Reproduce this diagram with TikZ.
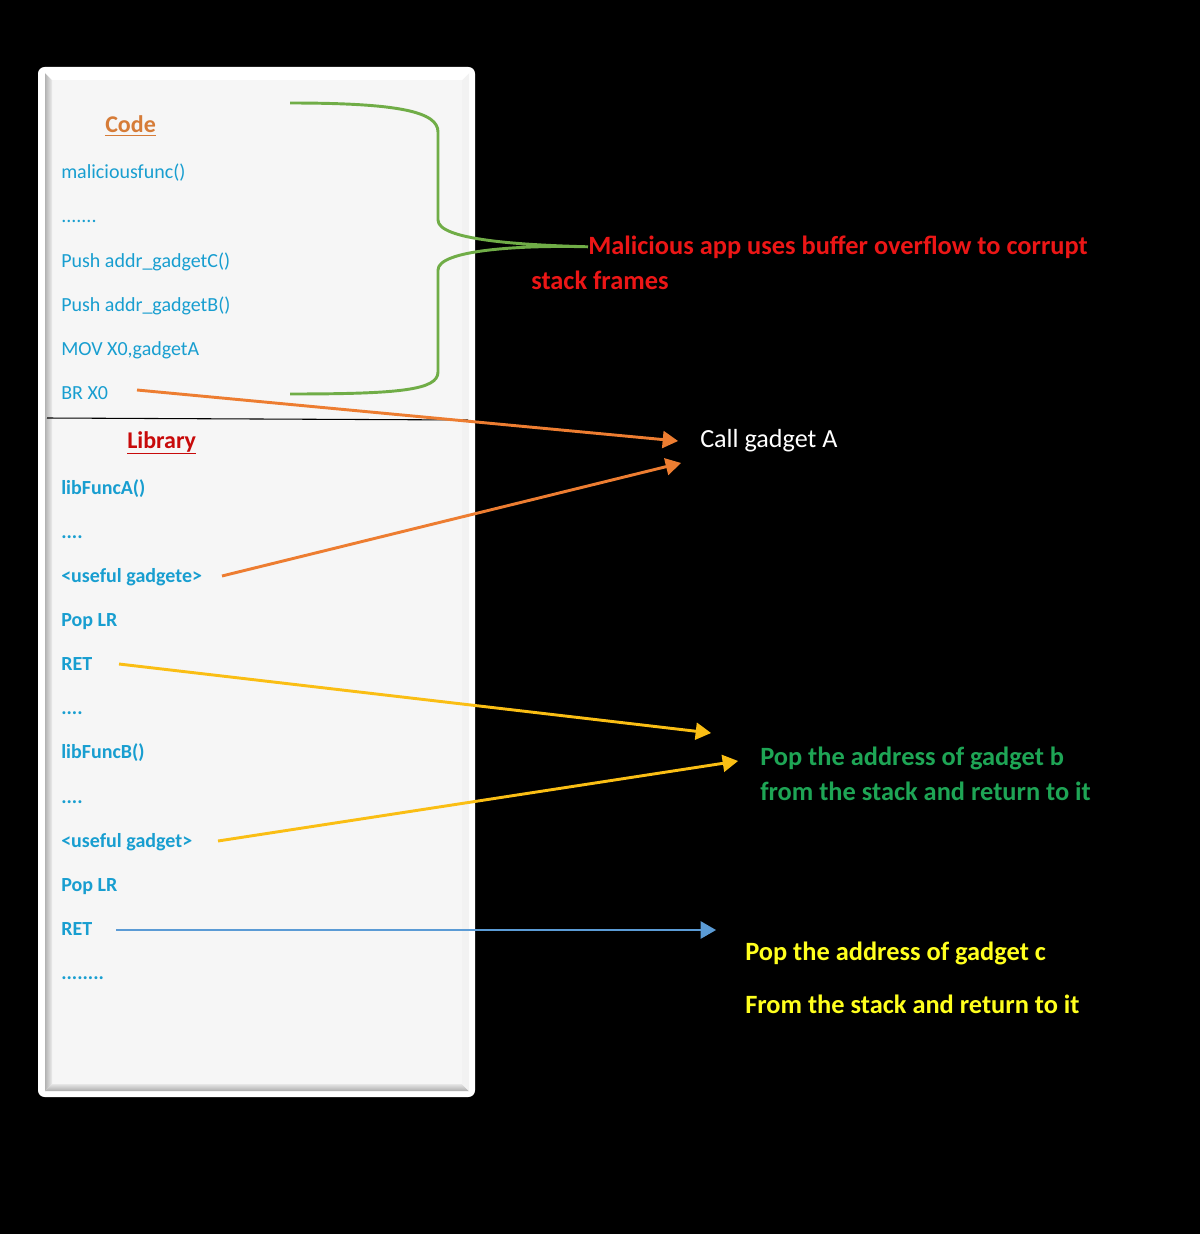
\documentclass[tikz,border=0pt]{standalone}
\usepackage{fontspec}
\setmainfont{Carlito}
\usetikzlibrary{positioning}
\usetikzlibrary{arrows}
\definecolor{codeblue}{RGB}{24,158,208}
\definecolor{codehead}{RGB}{214,124,56}
\definecolor{libhead}{RGB}{200,10,10}
\definecolor{warnred}{RGB}{236,22,22}
\definecolor{gadgetgreen}{RGB}{30,165,85}
\definecolor{gadgetyellow}{RGB}{255,255,30}
\definecolor{linkorange}{RGB}{237,125,49}
\definecolor{linkyellow}{RGB}{250,190,20}
\definecolor{linkblue}{RGB}{91,155,213}
\definecolor{bracegreen}{RGB}{112,173,71}
\definecolor{panel}{RGB}{246,246,246}
\tikzstyle{every codeline} = [anchor=base west, inner sep=0pt, text=codeblue]
\tikzstyle{codeline} = [every codeline, font=\fontsize{15}{18}\selectfont]
\tikzstyle{libline} = [every codeline, font=\fontsize{15}{18}\selectfont\bfseries]
\tikzstyle{heading} = [anchor=base west, inner sep=0pt, font=\fontsize{18}{22}\selectfont\bfseries]
\tikzstyle{remark} = [anchor=base west, inner sep=0pt, font=\fontsize{19.8}{24}\selectfont\bfseries]
\tikzstyle{link} = [>=triangle 60, draw, line width=2.2pt, ->]

\begin{document}
\begin{tikzpicture}[x=0.75pt, y=-0.75pt]
        \fill[black] (0,0) rectangle (1200,1234);

        % memory panel
        \fill[white, rounded corners=5] (38,67) rectangle (475,1097);
        \fill[panel] (45,73) rectangle (469,1091);
        \shade[left color=gray!60, right color=gray!15] (45,73) -- (52,80) -- (52,1084) -- (45,1091) -- cycle;
        \shade[top color=gray!20, bottom color=gray!65] (52,1084) -- (462,1084) -- (469,1091) -- (45,1091) -- cycle;
        \fill[gray!10] (462,80) -- (469,73) -- (469,1091) -- (462,1084) -- cycle;
        \fill[white] (45,73) -- (469,73) -- (462,80) -- (52,80) -- cycle;
        \draw[black, line width=0.8pt] (47,418) -- (468,420);

        % code part
        \node[heading, text=codehead] (code) at (105,133) {\underline{Code}};
        \node[codeline] (malfunc) at (61,178) {maliciousfunc()};
        \node[codeline] (dotsa) at (61,222) {.......};
        \node[codeline] (pushc) at (61,267) {Push addr\_gadgetC()};
        \node[codeline] (pushb) at (61,311) {Push addr\_gadgetB()};
        \node[codeline] (movx) at (61,355) {MOV X0,gadgetA};
        \node[codeline] (brx) at (61,399) {BR X0};

        % library part
        \node[heading, text=libhead] (library) at (127,448) {\underline{Library}};
        \node[libline] (libfa) at (61,494) {libFuncA()};
        \node[libline] (dotsb) at (61,538) {....};
        \node[libline] (gadgete) at (61,582) {<useful gadgete>};
        \node[libline] (poplra) at (61,626) {Pop LR};
        \node[libline] (reta) at (61,670) {RET};
        \node[libline] (dotsc) at (61,714) {....};
        \node[libline] (libfb) at (61,758) {libFuncB()};
        \node[libline] (dotsd) at (61,803) {....};
        \node[libline] (gadget) at (61,847) {<useful gadget>};
        \node[libline] (poplrb) at (61,891) {Pop LR};
        \node[libline] (retb) at (61,935) {RET};
        \node[libline] (dotse) at (61,979) {........};

        % remarks
        \node[remark, text=warnred] (malicious) at (588,254) {Malicious app uses buffer overflow to corrupt};
        \node[remark, text=warnred] (frames) at (531,289) {stack frames};
        \node[remark, text=white, font=\fontsize{19.6}{24}\selectfont] (calla) at (700,447) {Call gadget A};
        \node[remark, text=gadgetgreen] (popb) at (760,765) {Pop the address of gadget b};
        \node[remark, text=gadgetgreen] (returnb) at (760,800) {from the stack and return to it};
        \node[remark, text=gadgetyellow] (popc) at (745,960) {Pop the address of gadget c};
        \node[remark, text=gadgetyellow] (returnc) at (745,1013) {From the stack and return to it};

        % brace
        \draw[bracegreen, line width=2.2pt] (290,103) .. controls (400,103) and (438,112) .. (438,132)
            -- (438,220) .. controls (438,240) and (520,245) .. (malicious.west)
            .. controls (520,245) and (438,250) .. (438,270)
            -- (438,372) .. controls (438,390) and (400,394) .. (290,394);

        % arrow ends
        \coordinate (brxfrom) at (137,390);
        \coordinate (brxto) at (678,441);
        \coordinate (gadgetefrom) at (222,576);
        \coordinate (gadgeteto) at (681,463);
        \coordinate (retafrom) at (119,664);
        \coordinate (retato) at (711,733);
        \coordinate (gadgetfrom) at (218,841);
        \coordinate (gadgetto) at (738,761);
        \coordinate (retbfrom) at (116,930);
        \coordinate (retbto) at (716,930);

        \path[link, linkorange] (brxfrom) -- (brxto);
        \path[link, linkorange] (gadgetefrom) -- (gadgeteto);
        \path[link, linkyellow] (retafrom) -- (retato);
        \path[link, linkyellow] (gadgetfrom) -- (gadgetto);
        \path[link, linkblue] (retbfrom) -- (retbto);
\end{tikzpicture}
\end{document}
